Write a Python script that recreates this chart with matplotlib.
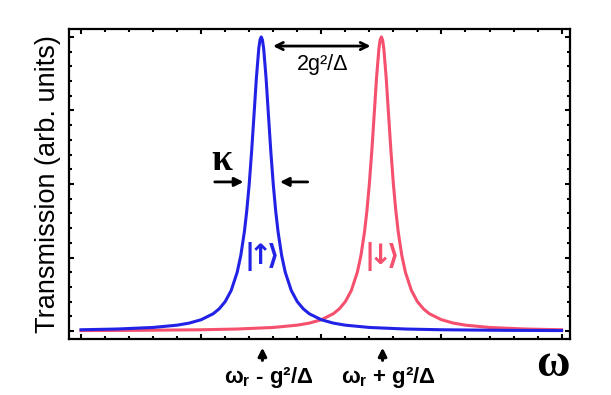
import matplotlib
matplotlib.use('Agg')
import matplotlib.pyplot as plt
from matplotlib.ticker import MultipleLocator

plt.rcParams['font.family'] = ['Liberation Sans', 'DejaVu Sans']
plt.rcParams['mathtext.fontset'] = 'custom'
plt.rcParams['mathtext.rm'] = 'Liberation Sans:bold'
plt.rcParams['mathtext.it'] = 'Liberation Sans:bold'
plt.rcParams['mathtext.bf'] = 'Liberation Sans:bold'

# spin-up transmission peak
blue_x = [0.0, 0.3, 0.6, 0.8, 0.9, 1.0, 1.1, 1.15, 1.2, 1.25, 1.3, 1.33, 1.36, 1.38,
          1.40, 1.42, 1.44, 1.46, 1.48, 1.49, 1.50, 1.51, 1.52, 1.54, 1.56, 1.58,
          1.60, 1.62, 1.64, 1.67, 1.70, 1.75, 1.8, 1.85, 1.9, 2.0, 2.1, 2.2, 2.4,
          2.7, 3.0, 3.5, 4.0]
blue_y = [0.0044, 0.0069, 0.0122, 0.020, 0.027, 0.0385, 0.0588, 0.0755, 0.100, 0.138,
          0.200, 0.257, 0.338, 0.410, 0.500, 0.610, 0.735, 0.862, 0.962, 0.990, 1.0,
          0.990, 0.962, 0.862, 0.735, 0.610, 0.500, 0.410, 0.338, 0.257, 0.200, 0.138,
          0.100, 0.0755, 0.0588, 0.0385, 0.027, 0.020, 0.0122, 0.0069, 0.0044, 0.0025,
          0.0016]

# spin-down transmission peak
red_x = [0.0, 0.5, 1.0, 1.3, 1.6, 1.8, 1.9, 2.0, 2.1, 2.15, 2.2, 2.25, 2.3, 2.33, 2.36,
         2.38, 2.40, 2.42, 2.44, 2.46, 2.48, 2.49, 2.50, 2.51, 2.52, 2.54, 2.56, 2.58,
         2.60, 2.62, 2.64, 2.67, 2.70, 2.75, 2.8, 2.85, 2.9, 3.0, 3.1, 3.2, 3.4, 3.7, 4.0]
red_y = [0.0016, 0.0025, 0.0044, 0.0069, 0.0122, 0.020, 0.027, 0.0385, 0.0588, 0.0755,
         0.100, 0.138, 0.200, 0.257, 0.338, 0.410, 0.500, 0.610, 0.735, 0.862, 0.962,
         0.990, 1.0, 0.990, 0.962, 0.862, 0.735, 0.610, 0.500, 0.410, 0.338, 0.257,
         0.200, 0.138, 0.100, 0.0755, 0.0588, 0.0385, 0.027, 0.020, 0.0122, 0.0069,
         0.0044]

peak_pos = [1.5, 2.5]
peak_labels = [r'$\omega_r$ - g²/Δ', r'$\omega_r$ + g²/Δ']
spin_kets = [r'$\mathbf{|\hspace{-0.4}\uparrow\hspace{-0.4}\rangle}$',
             r'$\mathbf{|\hspace{-0.4}\downarrow\hspace{-0.4}\rangle}$']

blue = '#2222e6'
red = '#f5506e'

fig = plt.figure(figsize=(6.11, 3.95), dpi=100)
ax = fig.add_axes([0.1129, 0.1418, 0.8200, 0.7848])

ax.plot(red_x, red_y, color=red, lw=2.2)
ax.plot(blue_x, blue_y, color=blue, lw=2.2)

ax.set_xlim(-0.1, 4.07)
ax.set_ylim(-0.027, 1.027)
ax.xaxis.set_major_locator(MultipleLocator(1))
ax.xaxis.set_minor_locator(MultipleLocator(0.2))
ax.yaxis.set_major_locator(MultipleLocator(0.25))
ax.yaxis.set_minor_locator(MultipleLocator(0.05))
ax.tick_params(which='both', direction='in', top=True, right=True,
               labelbottom=False, labelleft=False, width=1.5, color='black')
ax.tick_params(which='major', length=3.5)
ax.tick_params(which='minor', length=2)
for s in ax.spines.values():
    s.set_linewidth(1.6)

ax.set_ylabel('Transmission (arb. units)', fontsize=19.5, labelpad=6)

# splitting arrow
ax.annotate('', xy=(1.575, 0.969), xytext=(2.433, 0.969),
            arrowprops=dict(arrowstyle='<->', lw=2, color='black',
                            mutation_scale=13))
ax.text(2.01, 0.905, '2g²/Δ', fontsize=15.5, ha='center', va='center')

# linewidth kappa
ax.text(1.175, 0.58, 'κ', fontsize=27, ha='center', va='center',
        family='Liberation Serif', weight='bold')
ax.annotate('', xy=(1.375, 0.507), xytext=(1.09, 0.507),
            arrowprops=dict(arrowstyle='-|>', lw=2, color='black',
                            mutation_scale=13))
ax.annotate('', xy=(1.633, 0.507), xytext=(1.91, 0.507),
            arrowprops=dict(arrowstyle='-|>', lw=2, color='black',
                            mutation_scale=13))

# state labels |up> and |down>
for xp, ket, col in zip(peak_pos, spin_kets, [blue, red]):
    ax.text(xp, 0.252, ket, fontsize=20, ha='center', va='center', color=col,
            math_fontfamily='dejavusans')

# frequency markers below axis
for xp, lab in zip(peak_pos, peak_labels):
    ax.annotate('', xy=(xp + 0.01, -0.019), xytext=(xp + 0.01, -0.078),
                xycoords=('data', 'axes fraction'),
                textcoords=('data', 'axes fraction'),
                arrowprops=dict(arrowstyle='-|>', lw=2.2, color='black',
                                mutation_scale=12))
    ax.text(xp + 0.06, -0.125, lab, fontsize=16, ha='center', va='center',
            weight='bold', transform=ax.get_xaxis_transform())

ax.text(3.93, -0.084, 'ω', fontsize=33, ha='center', va='center',
        family='Liberation Serif', weight='bold',
        transform=ax.get_xaxis_transform())

fig.savefig('out.png', dpi=100)
